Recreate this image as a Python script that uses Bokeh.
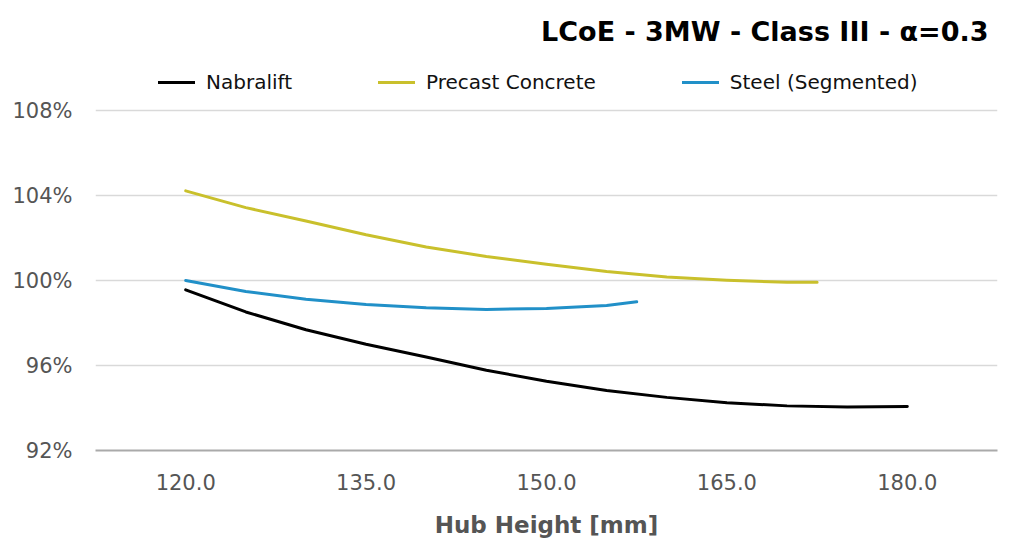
from bokeh.plotting import figure
from bokeh.models import (Range1d, FixedTicker, NumeralTickFormatter, PrintfTickFormatter,
                          Legend, LegendItem, Label, ColumnDataSource)
from bokeh.embed import file_html
from bokeh.resources import INLINE

# ---- data ----
nab_x = [120, 125, 130, 135, 140, 145, 150, 155, 160, 165, 170, 175, 180]
nab_y = [99.56, 98.52, 97.68, 97.0, 96.4, 95.78, 95.26, 94.82, 94.5, 94.25, 94.1, 94.05, 94.07]

pre_x = [120, 125, 130, 135, 140, 145, 150, 155, 160, 165, 170, 172.5]
pre_y = [104.22, 103.43, 102.8, 102.15, 101.58, 101.13, 100.77, 100.42, 100.16, 100.01, 99.92, 99.92]

stl_x = [120, 125, 130, 135, 140, 145, 150, 155, 157.5]
stl_y = [100.0, 99.48, 99.12, 98.87, 98.72, 98.64, 98.68, 98.82, 99.0]

x_ticks = [120, 135, 150, 165, 180]
y_ticks = [92, 96, 100, 104, 108]

series_names = ["Nabralift", "Precast Concrete", "Steel (Segmented)"]
colors = ["#000000", "#c9c02c", "#2190c8"]

title_text = "LCoE - 3MW - Class III - \u03b1=0.3"
x_label = "Hub Height [mm]"

FONT = "DejaVu Sans"

# frame spans the full canvas height above the x axis; the y range extends above 108%
# (no ticks/grid there) so that the title and legend live inside the frame
p = figure(width=1012, height=555, output_backend="svg", toolbar_location=None,
           x_range=Range1d(112.5, 187.5), y_range=Range1d(92, 92 + 450 / 21.25),
           min_border_left=95, min_border_right=15, min_border_top=0, min_border_bottom=105,
           frame_width=902, frame_height=450)
p.outline_line_color = None
p.background_fill_color = "white"
p.border_fill_color = "white"

renderers = []
for xs, ys, c in [(nab_x, nab_y, colors[0]), (pre_x, pre_y, colors[1]), (stl_x, stl_y, colors[2])]:
    src = ColumnDataSource(dict(x=xs, y=ys))
    r = p.line("x", "y", source=src, line_color=c, line_width=3, line_join="round", line_cap="round")
    renderers.append(r)

# axes
p.xaxis.ticker = FixedTicker(ticks=x_ticks)
p.xaxis.formatter = NumeralTickFormatter(format="0.0")
p.xaxis.major_tick_line_color = None
p.xaxis.minor_tick_line_color = None
p.xaxis.axis_line_color = "#aaaaaa"
p.xaxis.axis_line_width = 2
p.xaxis.major_label_text_font = FONT
p.xaxis.major_label_text_font_size = "21px"
p.xaxis.major_label_text_color = "#555555"
p.xaxis.major_label_standoff = 17
p.xaxis.axis_label = x_label
p.xaxis.axis_label_text_font = FONT
p.xaxis.axis_label_text_font_style = "bold"
p.xaxis.axis_label_text_font_size = "23px"
p.xaxis.axis_label_text_color = "#555555"
p.xaxis.axis_label_standoff = 19

p.yaxis.ticker = FixedTicker(ticks=y_ticks)
p.yaxis.formatter = PrintfTickFormatter(format="%d%%")
p.yaxis.major_tick_line_color = None
p.yaxis.minor_tick_line_color = None
p.yaxis.axis_line_color = None
p.yaxis.major_label_text_font = FONT
p.yaxis.major_label_text_font_size = "21px"
p.yaxis.major_label_text_color = "#555555"
p.yaxis.major_label_standoff = 17

p.xgrid.grid_line_color = None
p.ygrid.ticker = FixedTicker(ticks=y_ticks)
p.ygrid.grid_line_color = "#d9d9d9"
p.ygrid.grid_line_width = 1.5

# legend
legend = Legend(items=[LegendItem(label=n, renderers=[r]) for n, r in zip(series_names, renderers)],
                orientation="horizontal", location=(63, 356),
                glyph_width=37, glyph_height=20, label_standoff=11, spacing=86,
                padding=0, margin=0, border_line_color=None, background_fill_alpha=0,
                label_text_font=FONT, label_text_font_size="20px", label_text_color="#111111")
p.add_layout(legend, "center")

# title
title = Label(x=893, y=419, x_units="screen", y_units="screen", text=title_text,
              text_align="right", text_baseline="middle", text_font=FONT,
              text_font_style="bold", text_font_size="27px", text_color="#000000")
p.add_layout(title)

open("out.html", "w").write(file_html(p, INLINE))
